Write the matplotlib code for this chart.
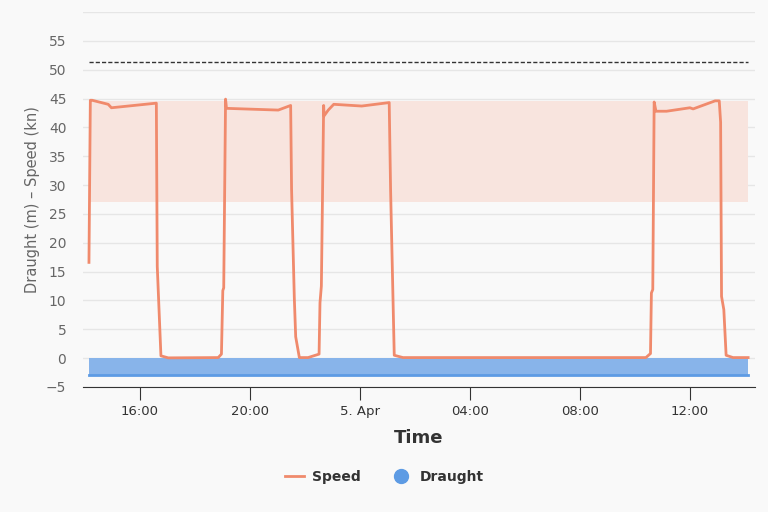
import numpy as np
import pandas as pd
import matplotlib
matplotlib.use("Agg")
import matplotlib.pyplot as plt
import matplotlib.dates as mdates
from matplotlib.lines import Line2D

# speed samples (time, knots)
speed_times = [
    "2024-04-04 14:09", "2024-04-04 14:12", "2024-04-04 14:16", "2024-04-04 14:51",
    "2024-04-04 14:58", "2024-04-04 16:36", "2024-04-04 16:38", "2024-04-04 16:46",
    "2024-04-04 17:02", "2024-04-04 18:51", "2024-04-04 18:58", "2024-04-04 19:01",
    "2024-04-04 19:03", "2024-04-04 19:07", "2024-04-04 19:09", "2024-04-04 21:02",
    "2024-04-04 21:29", "2024-04-04 21:31", "2024-04-04 21:37", "2024-04-04 21:40",
    "2024-04-04 21:48", "2024-04-04 22:07", "2024-04-04 22:31", "2024-04-04 22:33",
    "2024-04-04 22:36", "2024-04-04 22:41", "2024-04-04 22:42", "2024-04-04 22:51",
    "2024-04-04 23:03", "2024-04-05 00:04", "2024-04-05 01:04", "2024-04-05 01:07",
    "2024-04-05 01:15", "2024-04-05 01:34", "2024-04-05 10:24", "2024-04-05 10:34",
    "2024-04-05 10:36", "2024-04-05 10:39", "2024-04-05 10:42", "2024-04-05 10:46",
    "2024-04-05 11:09", "2024-04-05 12:00", "2024-04-05 12:07", "2024-04-05 12:55",
    "2024-04-05 13:04", "2024-04-05 13:07", "2024-04-05 13:09", "2024-04-05 13:14",
    "2024-04-05 13:19", "2024-04-05 13:34", "2024-04-05 14:07",
]
speed_kn = [
    16.6, 44.7, 44.7, 44.0,
    43.4, 44.2, 15.9, 0.4,
    0.05, 0.1, 0.7, 11.7,
    12.2, 44.9, 43.3, 43.0,
    43.8, 29.3, 10.4, 3.7,
    0.1, 0.1, 0.7, 9.6,
    12.5, 43.8, 42.0, 43.0,
    44.0, 43.7, 44.3, 29.3,
    0.5, 0.1, 0.1, 0.8,
    11.3, 11.9, 44.4, 42.8,
    42.8, 43.4, 43.2, 44.6,
    44.6, 40.9, 10.7, 8.4,
    0.5, 0.1, 0.1,
]

draught_times = ["2024-04-04 14:09", "2024-04-05 14:07"]
draught_m = [-3.0, -3.0]

band_low, band_high = 27.0, 44.5
max_line = 51.3

t = pd.to_datetime(speed_times)
td = pd.to_datetime(draught_times)

fig = plt.figure(figsize=(7.68, 5.12), dpi=100, facecolor="#f9f9f9")
ax = fig.add_axes([83 / 768, 1 - 387 / 512, (755 - 83) / 768, (387 - 12) / 512])
ax.set_facecolor("#f9f9f9")

ax.fill_between(t[[0, -1]], band_low, band_high, color="#f8e4de", lw=0, zorder=1)
ax.plot(t[[0, -1]], [max_line, max_line], color="#333333", ls=(0, (3, 1.5)), lw=1, zorder=2)

ax.fill_between(td, 0, draught_m, color="#88b4ea", lw=0, zorder=2)
ax.plot(td, draught_m, color="#5d9be4", lw=2, zorder=3)

ax.plot(t, speed_kn, color="#f08a6c", lw=2, zorder=4, solid_joinstyle="round")

ax.set_ylim(-5, 60)
ax.set_yticks(np.arange(-5, 61, 5))
ax.set_yticklabels([str(v).replace("-", "\u2212") if v < 60 else "" for v in range(-5, 61, 5)])
ax.set_xlim(pd.Timestamp("2024-04-04 13:56"), pd.Timestamp("2024-04-05 14:22"))

ax.xaxis.set_major_locator(mdates.HourLocator(byhour=[0, 4, 8, 12, 16, 20]))
ax.xaxis.set_major_formatter(plt.FuncFormatter(
    lambda v, p: "5. Apr" if mdates.num2date(v).hour == 0 else mdates.num2date(v).strftime("%H:%M")))

ax.grid(axis="y", color="#e6e6e6", lw=1)
ax.set_axisbelow(True)
for s in ["top", "right", "left"]:
    ax.spines[s].set_visible(False)
ax.spines["bottom"].set_color("#333333")
ax.tick_params(axis="y", length=0, labelcolor="#666666", labelsize=10, pad=12)
ax.tick_params(axis="x", length=9, color="#333333", labelcolor="#333333", labelsize=9.5, pad=4)

ax.set_ylabel("Draught (m) – Speed (kn)", color="#666666", fontsize=10.5, labelpad=4)
ax.set_xlabel("Time", color="#333333", fontsize=13, fontweight="bold", labelpad=8)

handles = [
    Line2D([], [], color="#f08a6c", lw=2),
    Line2D([], [], marker="o", ls="", color="#5d9be4", markersize=10),
]
fig.legend(handles, ["Speed", "Draught"], loc="center", bbox_to_anchor=(0.5, 1 - 477 / 512),
           ncol=2, frameon=False, prop={"weight": "bold", "size": 10}, handlelength=1.4,
           columnspacing=2.2, handletextpad=0.6, labelcolor="#333333")

fig.savefig("out.png", dpi=100, facecolor=fig.get_facecolor())
